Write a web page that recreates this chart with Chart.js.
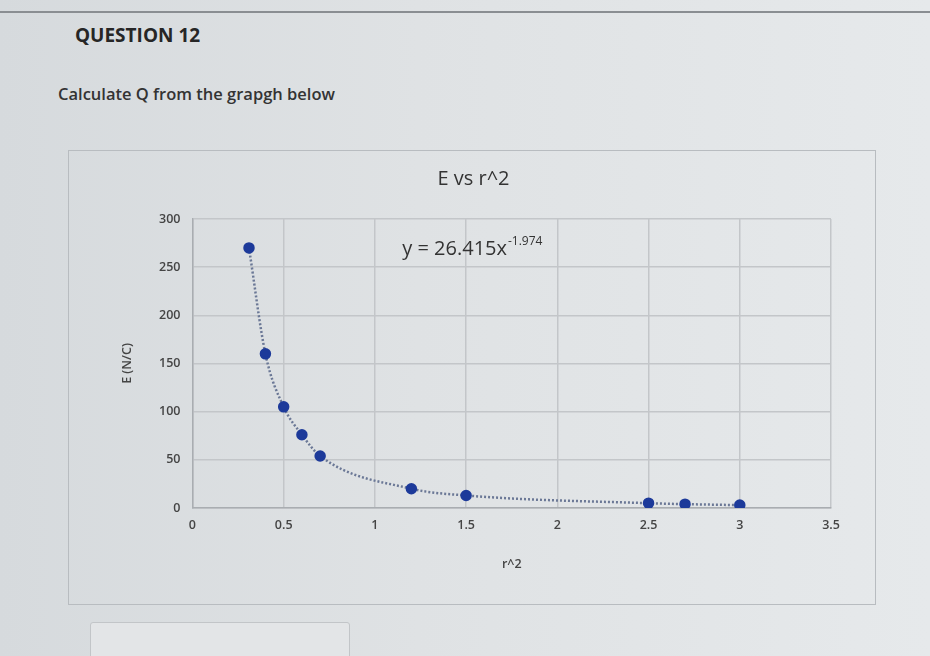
<!DOCTYPE html>
<html lang="en">
<head>
    <meta charset="UTF-8">
    <title>Question 12</title>
    <script src="https://cdn.jsdelivr.net/npm/chart.js"></script>
    <style>
        html, body { margin: 0; padding: 0; }
        body { width: 930px; height: 656px; overflow: hidden; position: relative;
               font-family: "Open Sans", Arial, sans-serif; color: #2b2b2b;
               background: linear-gradient(90deg, #d6dadd 0%, #dfe2e4 45%, #e6e9eb 100%); }
        .topline { position: absolute; left: 0; top: 11px; width: 930px; border-top: 2px solid #8a8e92; }
        h1 { position: absolute; left: 75px; top: 22px; margin: 0; font-size: 19px; font-weight: 700; color: #262626; }
        .question { position: absolute; left: 58px; top: 82px; margin: 0; font-size: 16.5px; font-weight: 600; color: #333; }
        .chart-box { position: absolute; left: 68px; top: 150px; width: 808px; height: 455px;
                     border: 1px solid #b8bcc0; box-sizing: border-box; }
        .answer { position: absolute; left: 90px; top: 622px; width: 258px; height: 40px;
                  border: 1px solid #c2c5c8; background: #e3e5e7; border-radius: 3px; }
    </style>
</head>
<body>
    <div class="topline"></div>
    <h1>QUESTION 12</h1>
    <p class="question">Calculate Q from the grapgh below</p>
    <div class="chart-box">
        <canvas id="chart" width="808" height="455"></canvas>
    </div>
    <div class="answer"></div>

    <script>
        // values
        const rSquared = [0.31, 0.4, 0.5, 0.6, 0.7, 1.2, 1.5, 2.5, 2.7, 3.0];
        const fieldE = [270, 160, 105, 76, 54, 20, 13, 5, 4, 3];
        const xTicks = [0, 0.5, 1, 1.5, 2, 2.5, 3, 3.5];
        const yTicks = [0, 50, 100, 150, 200, 250, 300];
        const equationText = 'y = 26.415x';
        const equationPower = '-1.974';

        const points = rSquared.map((x, i) => ({ x: x, y: fieldE[i] }));
        const tickFont = { family: '"Open Sans", Arial, sans-serif', size: 12.5, weight: '600' };

        // draws the trendline label inside the plot
        const equationLabel = {
            id: 'equationLabel',
            afterDatasetsDraw(chart) {
                const ctx = chart.ctx;
                const px = chart.scales.x.getPixelForValue(1.15);
                const py = chart.scales.y.getPixelForValue(263);
                ctx.save();
                ctx.fillStyle = '#333';
                ctx.textBaseline = 'alphabetic';
                ctx.font = '20px "Open Sans", Arial, sans-serif';
                ctx.fillText(equationText, px, py);
                const w = ctx.measureText(equationText).width;
                ctx.font = '12px "Open Sans", Arial, sans-serif';
                ctx.fillText(equationPower, px + w + 1, py - 10);
                ctx.restore();
            }
        };

        new Chart(document.getElementById('chart'), {
            type: 'scatter',
            data: {
                datasets: [{
                    label: 'E',
                    data: points,
                    showLine: true,
                    cubicInterpolationMode: 'monotone',
                    borderColor: '#6b7896',
                    borderWidth: 2.5,
                    borderDash: [2, 2],
                    pointRadius: 4.5,
                    pointHoverRadius: 4.5,
                    pointBackgroundColor: '#1d3a9a',
                    pointBorderColor: '#1d3a9a'
                }]
            },
            options: {
                responsive: false,
                animation: false,
                layout: { padding: { left: 47, right: 46, top: 8, bottom: 34 } },
                plugins: {
                    legend: { display: false },
                    tooltip: { enabled: false },
                    title: {
                        display: true,
                        text: 'E vs r^2',
                        color: '#333',
                        font: { family: '"Open Sans", Arial, sans-serif', size: 20, weight: 'normal' },
                        padding: { top: 8, bottom: 28 }
                    }
                },
                scales: {
                    x: {
                        type: 'linear',
                        min: 0,
                        max: 3.5,
                        afterBuildTicks: axis => { axis.ticks = xTicks.map(v => ({ value: v })); },
                        ticks: { color: '#444', padding: 10, font: tickFont, callback: v => String(v) },
                        grid: { color: '#c3c6c9', lineWidth: 1.5, drawTicks: false },
                        border: { color: '#a9adb1', width: 1.5 },
                        title: {
                            display: true,
                            text: 'r^2',
                            color: '#444',
                            font: tickFont,
                            padding: { top: 14, bottom: 0 }
                        }
                    },
                    y: {
                        min: 0,
                        max: 300,
                        afterBuildTicks: axis => { axis.ticks = yTicks.map(v => ({ value: v })); },
                        ticks: { color: '#444', padding: 12, font: tickFont, callback: v => String(v) },
                        grid: { color: '#c3c6c9', lineWidth: 1.5, drawTicks: false },
                        border: { color: '#a9adb1', width: 1.5 },
                        title: {
                            display: true,
                            text: 'E (N/C)',
                            color: '#444',
                            font: tickFont,
                            padding: { top: 4, bottom: 12 }
                        }
                    }
                }
            },
            plugins: [equationLabel]
        });
    </script>
</body>
</html>
